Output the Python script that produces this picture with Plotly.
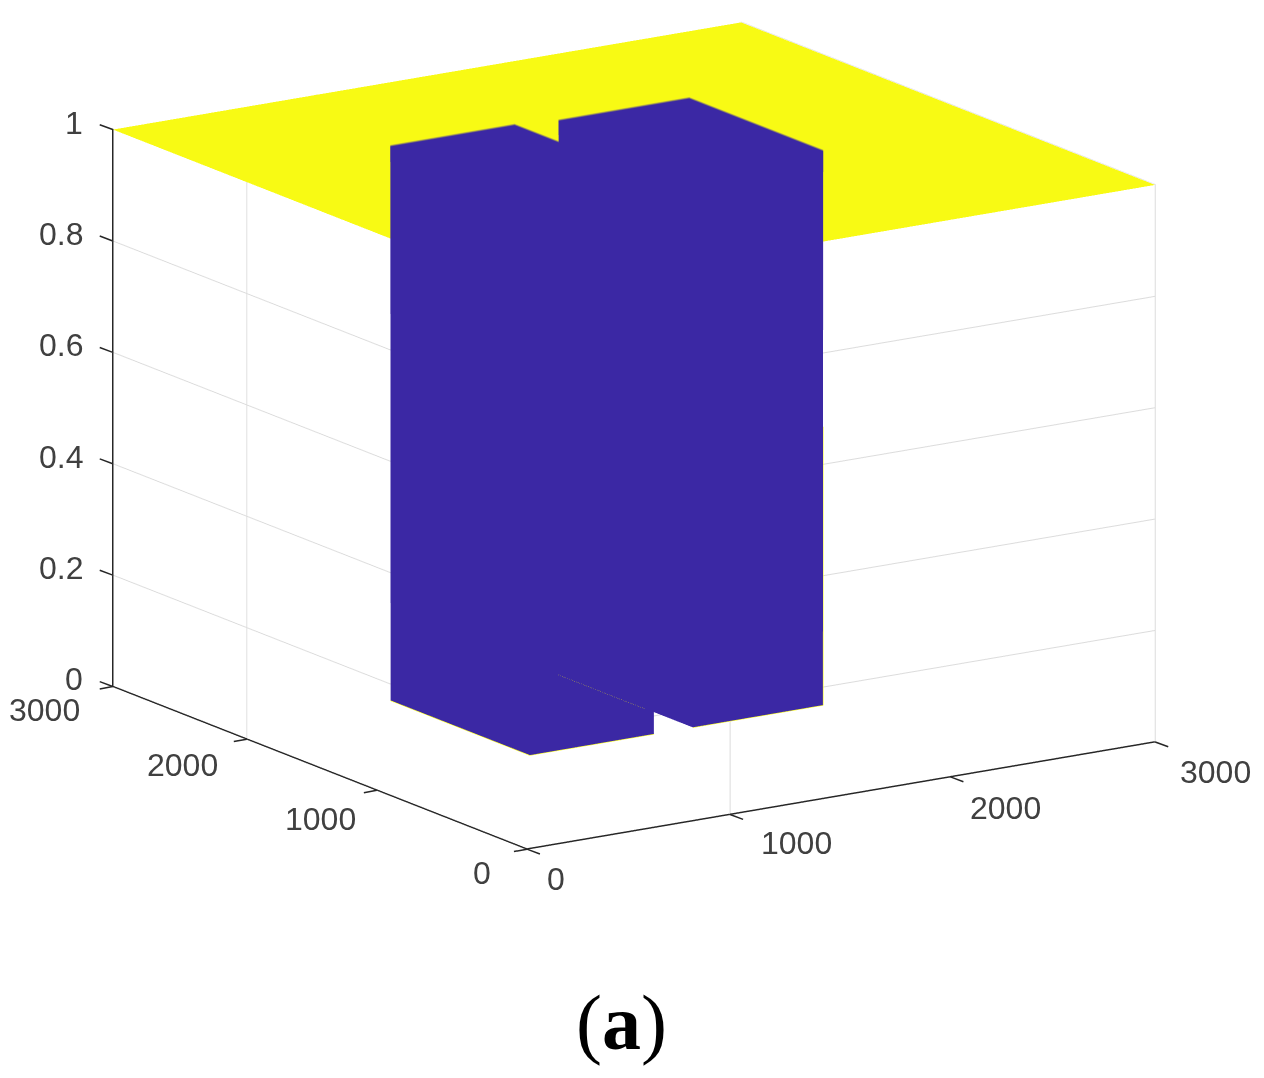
import plotly.graph_objects as go
import math

# Grid edges (data units) and binary height field
x_edges = [0, 805, 806, 1398, 1399, 1582, 1583, 2205, 2206, 3000]
y_edges = [0, 1200, 1201, 2170, 2171, 2210, 2211, 3000]
# rows = y, cols = x
z_rows = [
    [1, 1, 1, 1, 1, 1, 1, 1, 1, 1],
    [1, 1, 1, 1, 1, 1, 1, 1, 1, 1],
    [1, 1, 0, 0, 1, 1, 0, 0, 1, 1],
    [1, 1, 0, 0, 1, 1, 0, 0, 1, 1],
    [1, 1, 0, 0, 1, 1, 1, 1, 1, 1],
    [1, 1, 0, 0, 1, 1, 1, 1, 1, 1],
    [1, 1, 1, 1, 1, 1, 1, 1, 1, 1],
    [1, 1, 1, 1, 1, 1, 1, 1, 1, 1],
]
# thin yellow fringes seen along the block edges
fringe_x = [805, 805, 1398, None, 1583, 2205, 2205]
fringe_y = [2210, 1200, 1200, None, 1200, 1200, 1200]
fringe_z = [0, 0, 0, None, 0, 0, 0.5]
crack_x = [1582, 1582]
crack_y = [2170, 1540]
crack_z = [0, 0]

xy_ticks = [0, 1000, 2000, 3000]
# where the tick marks actually sit in the picture
x_tick_pos = [0, 970, 2022, 3000]
y_tick_pos = [0, 1087, 2029, 3000]
x_grid = [970, 3000]
y_grid = [2029]
z_grid = [0.2, 0.4, 0.6, 0.8]
z_ticks = [0, 0.2, 0.4, 0.6, 0.8, 1]
z_labels = ["0", "0.2", "0.4", "0.6", "0.8", "1"]
caption = "(<b>a</b>)"

BLUE = "#3B28A4"
YELLOW = "#F8FA14"
TXT = "#404040"
GRID = "#DCDCDC"
AXC = "#262626"
FONT = dict(family="Liberation Sans", size=32, color=TXT)

fig = go.Figure(go.Surface(
    x=x_edges, y=y_edges, z=z_rows,
    cmin=0, cmax=1,
    colorscale=[[0, BLUE], [0.996, BLUE], [1, YELLOW]],
    showscale=False,
    lighting=dict(ambient=1, diffuse=0, specular=0, roughness=1, fresnel=0),
))
fig.add_trace(go.Scatter3d(x=fringe_x, y=fringe_y, z=fringe_z, mode="lines",
                           line=dict(color=YELLOW, width=2), showlegend=False))
fig.add_trace(go.Scatter3d(x=crack_x, y=crack_y, z=crack_z, mode="lines",
                           line=dict(color="#B9AE45", width=2, dash="dash"), showlegend=False))

a = math.atan(414 / 628)
e = math.radians(15)
R = 2.0
k = 871 / 970
dz = -0.123
dr = 0.0124
cx, cy, cz = dr * math.cos(a), dr * math.sin(a), dz
eye = dict(x=cx + R * math.sin(a) * math.cos(e), y=cy - R * math.cos(a) * math.cos(e), z=cz - R * math.sin(e))


def ax(vals, rng):
    return dict(
        title=dict(text=""), tickvals=vals, range=rng,
        showgrid=True, gridcolor=GRID, gridwidth=2,
        showline=True, linecolor=AXC, linewidth=3,
        ticks="", showticklabels=False,
        showbackground=False, zeroline=False, showspikes=False,
    )


anns = []
tick = dict(text=" ", showarrow=True, arrowhead=0, arrowwidth=1.5, arrowcolor=AXC, standoff=0)
for v, xp, yp in zip(xy_ticks, x_tick_pos, y_tick_pos):
    anns.append(dict(x=xp, y=0, z=0, ax=16, ay=6, **tick))
    anns.append(dict(x=v, y=0, z=0, text=str(v), showarrow=False, font=FONT,
                     xshift=29 if v == 0 else 60, yshift=-30))
    anns.append(dict(x=0, y=yp, z=0, ax=-16, ay=3, **tick))
    anns.append(dict(x=0, y=v, z=0, text=str(v), showarrow=False, font=FONT,
                     xshift=-45 if v == 0 else -68, yshift=-24))
for v, t in zip(z_ticks, z_labels):
    anns.append(dict(x=0, y=3000, z=v, ax=-16, ay=-6, **tick))
    anns.append(dict(x=0, y=3000, z=v, text=t, showarrow=False, font=FONT,
                     xanchor="right", xshift=-28, yshift=7))

fig.update_layout(
    width=1264, height=1078, margin=dict(l=0, r=0, t=0, b=0),
    paper_bgcolor="white",
    scene=dict(
        domain=dict(x=[0, 1], y=[0.1, 1]),
        xaxis=ax(x_grid, [0, 3000]),
        yaxis=ax(y_grid, [3000, 0]),
        zaxis=ax(z_grid, [0, 1.001]),
        aspectmode="manual", aspectratio=dict(x=1.728 * k, y=1.728 * k, z=1.325 * k),
        camera=dict(eye=eye, up=dict(x=0, y=0, z=1), center=dict(x=cx, y=cy, z=cz),
                    projection=dict(type="orthographic")),
        annotations=anns,
    ),
    annotations=[dict(text=caption, x=613 / 1264, y=1 - 1014 / 1078, xref="paper", yref="paper",
                      xanchor="center", yanchor="middle", showarrow=False,
                      font=dict(family="Liberation Serif", size=78, color="black"))],
)
fig.write_html("out.html")
